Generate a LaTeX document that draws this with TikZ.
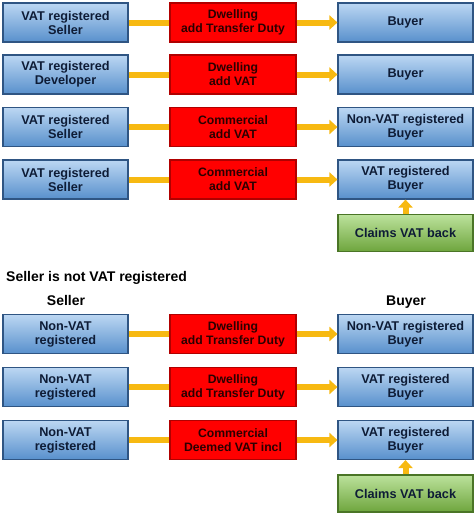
\documentclass[tikz,border=0pt]{standalone}
\usepackage{fontspec}
\setmainfont{Liberation Sans}
\usetikzlibrary{arrows.meta}
\definecolor{bluetop}{HTML}{BCD7F3}
\definecolor{bluebot}{HTML}{5890CC}
\definecolor{blueedge}{HTML}{2F5583}
\definecolor{bluetext}{HTML}{0E1C36}
\definecolor{redfill}{HTML}{FF0000}
\definecolor{rededge}{HTML}{B00000}
\definecolor{redtext}{HTML}{2A0000}
\definecolor{greentop}{HTML}{BCE29C}
\definecolor{greenbot}{HTML}{6EA53D}
\definecolor{greenedge}{HTML}{4A7526}
\definecolor{arrowcol}{HTML}{F7B911}
\tikzset{
  base/.style={minimum height=39pt, inner sep=0pt, align=center,
    font=\fontsize{12.7}{14}\selectfont\bfseries, line width=1.1pt},
  bluebox/.style={base, top color=bluetop, bottom color=bluebot, draw=blueedge, text=bluetext},
  lbox/.style={bluebox, minimum width=125pt},
  rbox/.style={bluebox, minimum width=135pt},
  redbox/.style={base, fill=redfill, draw=rededge, text=redtext, minimum width=126pt,
    font=\fontsize{12.2}{14}\selectfont\bfseries},
  greenbox/.style={base, top color=greentop, bottom color=greenbot, draw=greenedge,
    text=bluetext, minimum width=135pt, minimum height=37pt},
  link/.style={line width=6pt, draw=arrowcol},
  arr/.style={link, -{Triangle[width=14pt,length=8pt]}},
  heading/.style={font=\fontsize{14}{16}\selectfont\bfseries, text=black, inner sep=0pt, anchor=base}
}
\begin{document}
\begin{tikzpicture}[x=1pt,y=-1pt]
\useasboundingbox (0,0) rectangle (474,514);
% Row 1
\node[lbox] (s1) at (65.5,22.5) {VAT registered\\Seller};
\node[redbox] (m1) at (233,22.5) {Dwelling\\add Transfer Duty};
\node[rbox] (b1) at (405.5,22.5) {Buyer};
% Row 2
\node[lbox] (s2) at (65.5,74.5) {VAT registered\\Developer};
\node[redbox] (m2) at (233,74.5) {Dwelling\\add VAT};
\node[rbox] (b2) at (405.5,74.5) {Buyer};
% Row 3
\node[lbox] (s3) at (65.5,127) {VAT registered\\Seller};
\node[redbox] (m3) at (233,127) {Commercial\\add VAT};
\node[rbox] (b3) at (405.5,127) {Non-VAT registered\\Buyer};
% Row 4
\node[lbox] (s4) at (65.5,179.5) {VAT registered\\Seller};
\node[redbox] (m4) at (233,179.5) {Commercial\\add VAT};
\node[rbox] (b4) at (405.5,179.5) {VAT registered\\Buyer};
\node[greenbox] (g4) at (405.5,233) {Claims VAT back};
% Headings
\node[heading, anchor=base west] (t) at (6,281) {Seller is not VAT registered};
\node[heading] (hs) at (66,305) {Seller};
\node[heading] (hb) at (406,305) {Buyer};
% Row 5
\node[lbox] (s5) at (65.5,334) {Non-VAT\\registered};
\node[redbox] (m5) at (233,334) {Dwelling\\add Transfer Duty};
\node[rbox] (b5) at (405.5,334) {Non-VAT registered\\Buyer};
% Row 6
\node[lbox] (s6) at (65.5,387) {Non-VAT\\registered};
\node[redbox] (m6) at (233,387) {Dwelling\\add Transfer Duty};
\node[rbox] (b6) at (405.5,387) {VAT registered\\Buyer};
% Row 7
\node[lbox] (s7) at (65.5,440) {Non-VAT\\registered};
\node[redbox] (m7) at (233,440) {Commercial\\Deemed VAT incl};
\node[rbox] (b7) at (405.5,440) {VAT registered\\Buyer};
\node[greenbox] (g7) at (405.5,493.5) {Claims VAT back};
% Connectors
\foreach \i in {1,...,7}{
  \draw[link] (s\i.east) -- (m\i.west);
  \draw[arr] (m\i.east) -- (b\i.west);
}
\draw[arr] (g4.north) -- (b4.south);
\draw[arr] (g7.north) -- (b7.south);
\end{tikzpicture}
\end{document}
